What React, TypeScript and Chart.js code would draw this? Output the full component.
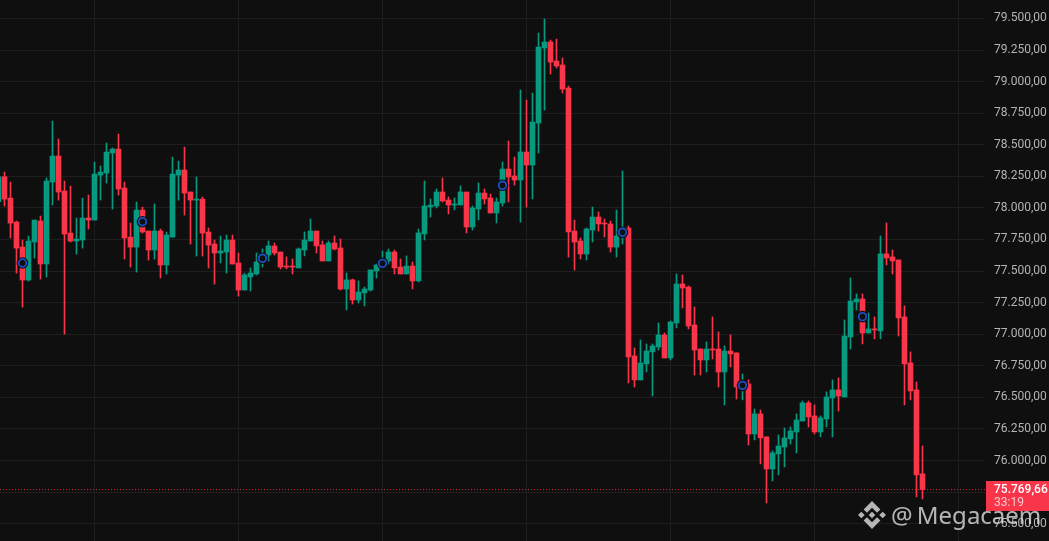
import React, { useEffect, useRef } from "react";
import { Chart, registerables } from "chart.js";

Chart.register(...registerables);

const opens = [78049,78247,78078,77888,77690,77429,77730,77896,77556,78205,78411,78134,77801,77738,77746,77920,77904,78260,78276,78435,78466,78157,77769,77690,77983,77817,77667,77817,77548,77769,78260,78300,78126,78062,78070,77809,77714,77643,77651,77746,77564,77350,77453,77477,77572,77627,77699,77651,77540,77540,77525,77667,77738,77817,77707,77580,77722,77683,77358,77430,77271,77327,77350,77501,77548,77580,77651,77532,77477,77540,77422,77794,78008,78015,78126,78063,78023,78023,78126,77849,77992,78118,78079,77960,78039,78308,78253,78221,78443,78340,78672,79266,79314,79163,79132,78949,77817,77738,77635,77825,77928,77880,77873,77690,77770,77841,76828,76638,76765,76860,76899,76994,76812,77089,77398,77374,77073,76883,76796,76883,76883,76701,76867,76852,76582,76606,76210,76369,76187,75933,76052,76107,76171,76226,76313,76456,76353,76226,76329,76495,76559,76503,76978,77256,77279,77010,77042,77026,77636,77612,77588,77137,76773,76559,75894];
const highs = [78262,78284,78205,77896,77746,77777,77904,77936,78237,78688,78545,78213,78173,77920,78078,78102,78363,78332,78514,78474,78585,78205,77880,78047,78007,77817,78031,77833,77809,78403,78371,78482,78126,78245,78086,77841,77746,77777,77785,77785,77643,77484,77525,77643,77675,77738,77722,77651,77612,77596,77683,77810,77912,77817,77738,77738,77778,77754,77485,77437,77422,77374,77509,77556,77659,77675,77667,77596,77620,77572,77833,78213,78071,78150,78237,78087,78079,78174,78126,78015,78198,78150,78110,78079,78363,78530,78403,78934,78854,78910,79385,79496,79329,79337,79187,78965,77904,77762,77841,78007,77968,77912,77896,77983,78292,77857,76891,76955,76923,76923,77089,77010,77105,77477,77469,77382,77216,76883,76939,77137,77018,76907,76994,76852,76685,76638,76408,76400,76187,76076,76202,76258,76266,76369,76472,76472,76440,76353,76543,76638,76654,77113,77446,77319,77319,77168,77137,77778,77881,77667,77588,77224,76860,76622,76115];
const lows = [78020,78015,77762,77484,77215,77421,77603,77437,77453,78023,78062,77001,77730,77635,77682,77833,77904,78062,78197,77991,78102,77595,77532,77492,77801,77587,77595,77445,77476,77769,78062,77944,77714,77619,77619,77524,77397,77564,77484,77556,77302,77350,77342,77469,77532,77580,77627,77517,77517,77477,77525,77620,77738,77643,77580,77580,77667,77350,77192,77239,77247,77224,77342,77445,77519,77556,77477,77477,77477,77358,77414,77746,77928,78000,78047,77952,77984,78023,77802,77825,77905,78031,77960,77881,78015,78047,78181,77888,78007,78071,78435,78775,79060,79108,78910,77611,77508,77595,77588,77730,77817,77770,77651,77611,77714,76614,76582,76638,76701,76511,76875,76812,76796,77050,77208,77042,76677,76677,76701,76804,76582,76440,76741,76487,76480,76123,76163,75973,75664,75838,75886,75949,76131,76060,76313,76266,76210,76187,76266,76187,76392,76503,76883,77192,76923,77010,76963,76963,77549,77477,76986,76440,76480,75712,75696];
const closes = [78247,78070,77880,77682,77429,77738,77904,77556,78213,78411,78126,77793,77738,77754,77920,77904,78268,78284,78442,78466,78149,77762,77690,77983,77809,77667,77817,77548,77785,78268,78300,78118,78062,78070,77801,77706,77643,77659,77746,77556,77350,77469,77485,77572,77627,77699,77643,77532,77532,77532,77675,77746,77817,77699,77580,77722,77675,77358,77430,77271,77334,77358,77509,77548,77580,77651,77525,77477,77540,77422,77802,78015,78023,78126,78055,78023,78031,78126,77849,78000,78118,78071,77960,78047,78308,78245,78221,78443,78340,78680,79274,79314,79155,79124,78941,77809,77730,77635,77833,77928,77873,77873,77690,77778,77841,76820,76638,76772,76867,76907,76994,76812,77097,77398,77366,77065,76875,76796,76883,76875,76701,76867,76844,76582,76606,76210,76369,76179,75933,76060,76115,76179,76234,76321,76456,76345,76226,76337,76503,76559,76511,76986,77263,77279,77010,77042,77034,77636,77604,77580,77129,76765,76551,75886,75769.66];

const markerIndexes = [4, 24, 44, 64, 84, 104, 124, 144];
const markerPrices = [77564, 77891, 77601, 77561, 78179, 77807, 76595, 77139];

const verticalGridIndexes = [16, 40, 64, 88, 112, 136, 160];
const priceTicks = [79500,79250,79000,78750,78500,78250,78000,77750,77500,77250,77000,76750,76500,76250,76000,75750,75500];

const lastPrice = 75769.66;
const lastPriceLabel = "75.769,66";
const countdownLabel = "33:19";
const watermarkLabel = "@ Megacaem";

const UP = "#089981";
const DOWN = "#F83549";
const BG = "#0F0F0F";
const GRID = "#1E1E1E";

const formatPrice = (v: number) =>
  v.toLocaleString("de-DE", { minimumFractionDigits: 2, maximumFractionDigits: 2 });

const overlayPlugin = {
  id: "overlay",
  afterDraw(chart: any) {
    const ctx = chart.ctx as any;
    ctx.save();
    // last price tag
    ctx.fillStyle = DOWN;
    ctx.fillRect(986, 481, 63, 30);
    ctx.textBaseline = "middle";
    ctx.textAlign = "left";
    ctx.font = "500 12px Roboto";
    ctx.fillStyle = "#FFFFFF";
    ctx.fillText(lastPriceLabel, 994, 489.5);
    ctx.font = "12px Roboto";
    ctx.fillStyle = "rgba(255,255,255,0.72)";
    ctx.fillText(countdownLabel, 994, 503);

    // watermark
    const wm = "rgba(228,228,228,0.78)";
    ctx.fillStyle = wm;
    const cx = 872;
    const cy = 515;
    const R = 14;
    const poly = (pts: number[][]) => {
      ctx.beginPath();
      pts.forEach(([a, b], i) => {
        const px = cx + a * R;
        const py = cy + b * R;
        if (i === 0) ctx.moveTo(px, py);
        else ctx.lineTo(px, py);
      });
      ctx.closePath();
      ctx.fill();
    };
    poly([[0,-1],[0.6,-0.4],[0.36,-0.16],[0,-0.52],[-0.36,-0.16],[-0.6,-0.4]]);
    poly([[0,1],[0.6,0.4],[0.36,0.16],[0,0.52],[-0.36,0.16],[-0.6,0.4]]);
    poly([[-0.76,-0.24],[-0.52,0],[-0.76,0.24],[-1,0]]);
    poly([[0.76,-0.24],[1,0],[0.76,0.24],[0.52,0]]);
    poly([[0,-0.24],[0.24,0],[0,0.24],[-0.24,0]]);
    ctx.font = '24px "Noto Sans"';
    ctx.wordSpacing = "-2px";
    ctx.textBaseline = "alphabetic";
    ctx.fillText(watermarkLabel, 891, 524);
    ctx.restore();
  },
};

export default function App() {
  const ref = useRef<HTMLCanvasElement | null>(null);

  useEffect(() => {
    if (!ref.current) return;
    const colors = closes.map((c, i) => (c >= opens[i] ? UP : DOWN));
    const chart = new Chart(ref.current, {
      type: "bar",
      data: {
        datasets: [
          {
            type: "line",
            data: markerIndexes.map((x, i) => ({ x, y: markerPrices[i] })),
            showLine: false,
            pointRadius: 3.8,
            pointBorderWidth: 1.8,
            pointBorderColor: "#1E4CC4",
            pointBackgroundColor: BG,
            order: 0,
          },
          {
            type: "line",
            data: markerIndexes.map((x, i) => ({ x, y: markerPrices[i] })),
            showLine: false,
            pointRadius: 5.8,
            pointBorderWidth: 0,
            pointBackgroundColor: BG,
            order: 1,
          },
          {
            type: "line",
            data: [
              { x: 0.25, y: lastPrice },
              { x: 164.4167, y: lastPrice },
            ],
            borderColor: "rgba(248,53,73,0.85)",
            borderWidth: 1,
            borderDash: [1, 2],
            pointRadius: 0,
            order: 2,
          },
          {
            type: "bar",
            data: opens.map((o, i) => ({ x: i, y: [o, closes[i]] })),
            backgroundColor: colors,
            borderWidth: 0,
            barThickness: 5,
            grouped: false,
            order: 3,
          },
          {
            type: "bar",
            data: lows.map((l, i) => ({ x: i, y: [l, highs[i]] })),
            backgroundColor: colors,
            borderWidth: 0,
            barThickness: 1,
            grouped: false,
            order: 4,
          },
        ] as any,
      },
      options: {
        animation: false,
        responsive: false,
        devicePixelRatio: 1,
        events: [],
        layout: { padding: 0, autoPadding: false },
        plugins: { legend: { display: false }, tooltip: { enabled: false } },
        scales: {
          x: {
            type: "linear",
            min: 0.25,
            max: 164.4167,
            offset: false,
            border: { display: false },
            grid: { color: GRID, lineWidth: 1, drawTicks: false, offset: false },
            ticks: { display: false },
            afterBuildTicks(scale: any) {
              scale.ticks = verticalGridIndexes.map((value) => ({ value }));
            },
            afterFit(scale: any) {
              scale.height = 0;
              scale.paddingLeft = 0;
              scale.paddingRight = 0;
              scale.paddingTop = 0;
              scale.paddingBottom = 0;
            },
          },
          y: {
            type: "linear",
            position: "right",
            min: 75362.6,
            max: 79646.4,
            border: { display: false },
            grid: { color: GRID, lineWidth: 1, drawTicks: false },
            ticks: {
              autoSkip: false,
              padding: 9,
              color: "#B4B4B4",
              font: { family: "Roboto", size: 12 },
              callback: (v: any) => formatPrice(Number(v)),
            },
            afterBuildTicks(scale: any) {
              scale.ticks = priceTicks.map((value) => ({ value }));
            },
            afterFit(scale: any) {
              scale.width = 64;
              scale.paddingTop = 0;
              scale.paddingBottom = 0;
              scale.paddingLeft = 0;
              scale.paddingRight = 0;
            },
          },
        },
      } as any,
      plugins: [overlayPlugin],
    });
    return () => chart.destroy();
  }, []);

  return (
    <div style={{ position: "fixed", left: 0, top: 0, width: 1049, height: 541, background: BG, overflow: "hidden" }}>
      <canvas ref={ref} width={1049} height={541} style={{ display: "block", width: 1049, height: 541 }} />
    </div>
  );
}
